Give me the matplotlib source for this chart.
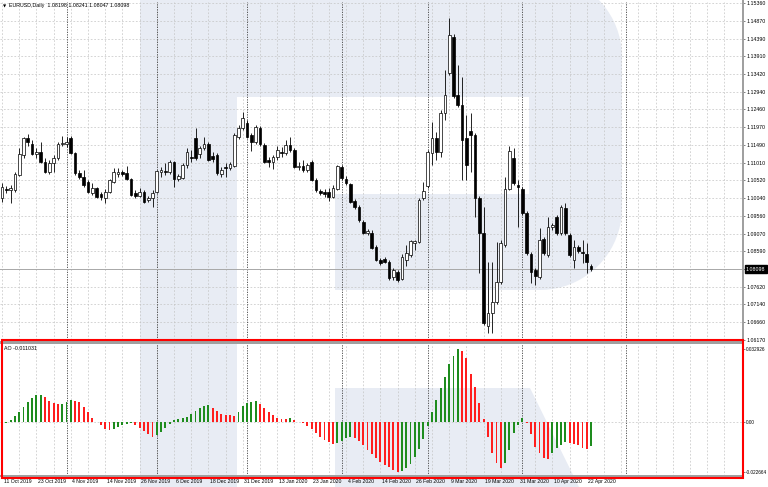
import numpy as np
import matplotlib
matplotlib.use("Agg")
import matplotlib.pyplot as plt
import matplotlib.transforms as mtransforms
from matplotlib.patches import Polygon, Rectangle

plt.rcParams['font.family'] = ['Liberation Sans', 'DejaVu Sans']

# EURUSD daily candles, 11 Oct 2019 .. 23 Apr 2020
opens = [1.1004, 1.1029, 1.1026, 1.1026, 1.1067, 1.1122, 1.1168, 1.1152, 1.1124, 1.1130,
         1.1102, 1.1075, 1.1100, 1.1113, 1.1152, 1.1152, 1.1168, 1.1127, 1.1072, 1.1062,
         1.1048, 1.1018, 1.1032, 1.1015, 1.1004, 1.1021, 1.1048, 1.1070, 1.1075, 1.1072,
         1.1056, 1.1018, 1.1010, 1.1021, 1.0999, 1.1004, 1.1021, 1.1075, 1.1078, 1.1075,
         1.1102, 1.1056, 1.1059, 1.1094, 1.1116, 1.1168, 1.1124, 1.1141, 1.1152, 1.1119,
         1.1122, 1.1070, 1.1089, 1.1086, 1.1092, 1.1171, 1.1195, 1.1209, 1.1176, 1.1157,
         1.1195, 1.1149, 1.1108, 1.1102, 1.1116, 1.1130, 1.1127, 1.1149, 1.1135, 1.1089,
         1.1092, 1.1081, 1.1102, 1.1053, 1.1023, 1.1021, 1.1021, 1.1007, 1.1029, 1.1089,
         1.1056, 1.1043, 1.0996, 1.0980, 1.0939, 1.0909, 1.0909, 1.0871, 1.0835, 1.0838,
         1.0830, 1.0789, 1.0802, 1.0784, 1.0835, 1.0849, 1.0882, 1.0884, 1.1004, 1.1037,
         1.1127, 1.1168, 1.1130, 1.1236, 1.1345, 1.1443, 1.1285, 1.1258, 1.1168, 1.1187,
         1.1176, 1.1004, 1.0909, 1.0655, 1.0691, 1.0721, 1.0775, 1.0876, 1.1029, 1.1113,
         1.1040, 1.1029, 1.0963, 1.0852, 1.0808, 1.0789, 1.0892, 1.0849, 1.0925, 1.0952,
         1.0909, 1.0977, 1.0903, 1.0835, 1.0871, 1.0857, 1.0852, 1.08198]
highs = [1.1045, 1.1037, 1.1040, 1.1075, 1.1141, 1.1171, 1.1179, 1.1162, 1.1141, 1.1157,
         1.1113, 1.1108, 1.1122, 1.1157, 1.1173, 1.1171, 1.1173, 1.1130, 1.1081, 1.1081,
         1.1053, 1.1045, 1.1034, 1.1021, 1.1029, 1.1056, 1.1086, 1.1086, 1.1081, 1.1092,
         1.1059, 1.1026, 1.1032, 1.1026, 1.1010, 1.1026, 1.1081, 1.1089, 1.1100, 1.1108,
         1.1105, 1.1070, 1.1100, 1.1141, 1.1135, 1.1195, 1.1146, 1.1171, 1.1157, 1.1130,
         1.1127, 1.1089, 1.1100, 1.1102, 1.1181, 1.1203, 1.1239, 1.1217, 1.1181, 1.1203,
         1.1200, 1.1154, 1.1116, 1.1122, 1.1146, 1.1143, 1.1162, 1.1171, 1.1141, 1.1102,
         1.1108, 1.1100, 1.1108, 1.1059, 1.1029, 1.1029, 1.1032, 1.1040, 1.1094, 1.1094,
         1.1064, 1.1045, 1.1001, 1.0985, 1.0944, 1.0920, 1.0917, 1.0876, 1.0841, 1.0843,
         1.0835, 1.0813, 1.0808, 1.0852, 1.0876, 1.0890, 1.0890, 1.1004, 1.1048, 1.1135,
         1.1212, 1.1184, 1.1244, 1.1353, 1.1495, 1.1451, 1.1367, 1.1334, 1.1231, 1.1236,
         1.1181, 1.1010, 1.0980, 1.0830, 1.0830, 1.0884, 1.0890, 1.1062, 1.1146, 1.1141,
         1.1053, 1.1034, 1.0969, 1.0857, 1.0813, 1.0922, 1.0898, 1.0952, 1.0936, 1.0958,
         1.0985, 1.0991, 1.0909, 1.0890, 1.0876, 1.0890, 1.0882, 1.08241]
lows = [1.0993, 1.1018, 1.0991, 1.1021, 1.1064, 1.1113, 1.1146, 1.1122, 1.1113, 1.1100,
        1.1072, 1.1070, 1.1075, 1.1108, 1.1146, 1.1143, 1.1124, 1.1067, 1.1056, 1.1034,
        1.1018, 1.1012, 1.1004, 1.0999, 1.0991, 1.1018, 1.1045, 1.1062, 1.1064, 1.1053,
        1.1010, 1.1004, 1.1007, 1.0991, 1.0993, 1.0980, 1.1018, 1.1062, 1.1067, 1.1070,
        1.1034, 1.1051, 1.1056, 1.1086, 1.1102, 1.1108, 1.1113, 1.1135, 1.1105, 1.1102,
        1.1067, 1.1062, 1.1062, 1.1081, 1.1089, 1.1165, 1.1190, 1.1168, 1.1132, 1.1152,
        1.1146, 1.1100, 1.1089, 1.1083, 1.1108, 1.1116, 1.1122, 1.1130, 1.1086, 1.1081,
        1.1075, 1.1075, 1.1051, 1.1021, 1.1012, 1.1007, 1.0996, 1.1004, 1.1026, 1.1053,
        1.1040, 1.0991, 1.0974, 1.0939, 1.0906, 1.0903, 1.0865, 1.0833, 1.0822, 1.0827,
        1.0781, 1.0781, 1.0775, 1.0781, 1.0819, 1.0843, 1.0862, 1.0882, 1.0999, 1.1032,
        1.1094, 1.1108, 1.1116, 1.1217, 1.1340, 1.1277, 1.1252, 1.1053, 1.1053, 1.1075,
        1.0952, 1.0800, 1.0658, 1.0636, 1.0636, 1.0715, 1.0770, 1.0871, 1.1026, 1.1040,
        1.0925, 1.0958, 1.0849, 1.0772, 1.0767, 1.0783, 1.0849, 1.0843, 1.0917, 1.0903,
        1.0903, 1.0903, 1.0843, 1.0813, 1.0854, 1.0827, 1.0800, 1.08047]
closes = [1.1034, 1.1026, 1.1032, 1.1070, 1.1124, 1.1168, 1.1157, 1.1124, 1.1130, 1.1102,
          1.1075, 1.1100, 1.1113, 1.1152, 1.1154, 1.1157, 1.1127, 1.1072, 1.1062, 1.1040,
          1.1021, 1.1032, 1.1007, 1.1007, 1.1021, 1.1053, 1.1075, 1.1075, 1.1070, 1.1056,
          1.1012, 1.1010, 1.1021, 1.0993, 1.1004, 1.1018, 1.1078, 1.1081, 1.1075, 1.1102,
          1.1056, 1.1064, 1.1094, 1.1130, 1.1113, 1.1113, 1.1141, 1.1152, 1.1108, 1.1111,
          1.1072, 1.1081, 1.1086, 1.1097, 1.1176, 1.1195, 1.1222, 1.1171, 1.1157, 1.1198,
          1.1152, 1.1102, 1.1102, 1.1116, 1.1135, 1.1127, 1.1149, 1.1135, 1.1089, 1.1092,
          1.1081, 1.1094, 1.1053, 1.1026, 1.1018, 1.1015, 1.1007, 1.1032, 1.1092, 1.1059,
          1.1045, 1.0993, 1.0980, 1.0944, 1.0909, 1.0914, 1.0868, 1.0835, 1.0827, 1.0830,
          1.0786, 1.0808, 1.0781, 1.0843, 1.0854, 1.0887, 1.0887, 1.0999, 1.1023, 1.1130,
          1.1168, 1.1130, 1.1236, 1.1285, 1.1449, 1.1282, 1.1258, 1.1162, 1.1094, 1.1176,
          1.1004, 1.0909, 1.0663, 1.0691, 1.0721, 1.0775, 1.0882, 1.1029, 1.1132, 1.1045,
          1.1034, 1.0963, 1.0854, 1.0803, 1.0792, 1.0890, 1.0854, 1.0925, 1.0930, 1.0909,
          1.0980, 1.0909, 1.0849, 1.0871, 1.0860, 1.0854, 1.0830, 1.08098]

# Awesome Oscillator histogram
ao_values = [-0.0008, -0.0005, 0.0009, 0.0029, 0.0047, 0.0066, 0.0089, 0.0108, 0.0120, 0.0122,
             0.0111, 0.0095, 0.0084, 0.0080, 0.0081, 0.0090, 0.0099, 0.0096, 0.0089, 0.0069,
             0.0044, 0.0020, 0.0002, -0.0014, -0.0033, -0.0036, -0.0032, -0.0023, -0.0014, -0.0008,
             -0.0006, -0.0014, -0.0029, -0.0041, -0.0053, -0.0066, -0.0059, -0.0047, -0.0029, -0.0011,
             0.0008, 0.0012, 0.0017, 0.0021, 0.0036, 0.0051, 0.0065, 0.0074, 0.0077, 0.0065,
             0.0050, 0.0038, 0.0032, 0.0030, 0.0028, 0.0044, 0.0072, 0.0087, 0.0092, 0.0093,
             0.0081, 0.0065, 0.0047, 0.0032, 0.0020, 0.0014, 0.0012, 0.0017, 0.0009, -0.0002,
             -0.0005, -0.0017, -0.0033, -0.0051, -0.0066, -0.0081, -0.0092, -0.0099, -0.0096, -0.0084,
             -0.0074, -0.0068, -0.0074, -0.0086, -0.0104, -0.0125, -0.0145, -0.0163, -0.0180, -0.0193,
             -0.0205, -0.0217, -0.0227, -0.0219, -0.0207, -0.0188, -0.0160, -0.0122, -0.0076, -0.0018,
             0.0044, 0.0099, 0.0152, 0.0204, 0.0260, 0.0299, 0.0329, 0.0322, 0.0287, 0.0215,
             0.0159, 0.0084, 0.0014, -0.0066, -0.0141, -0.0186, -0.0209, -0.0184, -0.0126, -0.0051,
             -0.0014, 0.0017, -0.0003, -0.0053, -0.0111, -0.0141, -0.0164, -0.0167, -0.0141, -0.0119,
             -0.0104, -0.0092, -0.0096, -0.0101, -0.0104, -0.0116, -0.0123, -0.011031]

date_labels = ['11 Oct 2019', '23 Oct 2019', '4 Nov 2019', '14 Nov 2019', '26 Nov 2019',
               '6 Dec 2019', '18 Dec 2019', '31 Dec 2019', '13 Jan 2020', '23 Jan 2020',
               '4 Feb 2020', '14 Feb 2020', '26 Feb 2020', '9 Mar 2020', '19 Mar 2020',
               '31 Mar 2020', '10 Apr 2020', '22 Apr 2020']
label_step = 8
month_starts = [15, 36, 57, 79, 99, 121, 145]   # bar index of period separators

price_ticks = [1.15360, 1.14870, 1.14390, 1.13910, 1.13420, 1.12940, 1.12460, 1.11970,
               1.11490, 1.11010, 1.10520, 1.10040, 1.09560, 1.09070, 1.08590, 1.08110,
               1.07620, 1.07140, 1.06660, 1.06170]
last_price = 1.08098
ao_ticks = [0.032926, 0.0, -0.022664]
ao_tick_labels = ['0.032926', '0.00', '-0.022664']
ao_last = -0.011031

# ---- layout (pixels) ----
W, H = 768, 487
fig = plt.figure(figsize=(W / 100, H / 100), dpi=100, facecolor='white')
pix = mtransforms.Affine2D().scale(1 / W, -1 / H).translate(0, 1) + fig.transFigure
FS = 3.8


def box(x0, y0, x1, y1):
    return [x0 / W, 1 - y1 / H, (x1 - x0) / W, (y1 - y0) / H]


# watermark logo behind the chart
wm = '#e8ecf4'
t1 = np.linspace(np.pi / 2, 0, 20)
t2 = np.linspace(0, -np.pi / 2, 20)
bowl = [(237, -25)]
bowl += list(zip(540 + 82 * np.cos(t1), 57 - 82 * np.sin(t1)))
bowl += list(zip(540 + 82 * np.cos(t2), 208 - 82 * np.sin(t2)))
bowl += [(335, 290), (335, 194), (529, 194), (529, 97), (237, 97)]
for pts in [bowl,
            [(140, -2), (237, -2), (237, 489), (140, 489)],
            [(335, 388), (530, 388), (580, 489), (335, 489)]]:
    fig.add_artist(Polygon(pts, closed=True, transform=pix, fc=wm, ec='none', zorder=-5))

ax = fig.add_axes(box(0, 2, 743, 340))
ao = fig.add_axes(box(0, 344, 743, 476), sharex=ax)
for a in (ax, ao):
    a.set_facecolor('none')
    for s in a.spines.values():
        s.set_visible(False)

x = np.arange(len(closes))
xlim = (-2 / 4.3, 741 / 4.3)
grid_x = np.arange(0, 173, 4)
grid_kw = dict(color='#c4c4c4', lw=0.5, ls=(0, (2.5, 2.5)))

# main price panel
ax.set_xlim(*xlim)
ax.set_ylim(1.06170, 1.15387)
ax.set_xticks(grid_x)
ax.tick_params(axis='x', length=0, labelbottom=False)
ax.yaxis.tick_right()
ax.set_yticks(price_ticks)
ax.set_yticklabels(['' if abs(p - 1.0811) < 1e-6 else '%.5f' % p for p in price_ticks])
ax.tick_params(axis='y', length=1.5, width=0.5, pad=0.8, labelsize=FS, color='#505050')
ax.grid(True, **grid_kw)
for m in month_starts:
    ax.axvline(m, color='#404040', lw=0.6, ls=(0, (1.5, 1.5)))
    ao.axvline(m, color='#404040', lw=0.6, ls=(0, (1.5, 1.5)))
ax.axhline(last_price, color='#a8a8a8', lw=0.7)

o = np.array(opens)
c = np.array(closes)
ax.vlines(x, lows, highs, color='black', lw=0.6, zorder=3)
bull = c >= o
ax.bar(x[bull], np.maximum(c[bull] - o[bull], 0.00004), bottom=o[bull], width=0.62,
       color='white', edgecolor='black', lw=0.5, zorder=4)
ax.bar(x[~bull], np.maximum(o[~bull] - c[~bull], 0.00004), bottom=c[~bull], width=0.62,
       color='black', edgecolor='black', lw=0.5, zorder=4)

ax.text(1.004, last_price, '%.5f' % last_price, transform=ax.get_yaxis_transform(),
        ha='left', va='center', fontsize=FS, color='white',
        bbox=dict(boxstyle='square,pad=0.25', fc='black', ec='black'))

# AO panel
ao.set_ylim(-54 / 2217, 78 / 2217)
ao.set_xticks(grid_x)
ao.tick_params(axis='x', length=0, labelbottom=False)
ao.grid(True, axis='x', **grid_kw)
ao.axhline(0, **grid_kw)
ao.yaxis.tick_right()
ao.set_yticks(ao_ticks)
ao.set_yticklabels(ao_tick_labels)
ao.tick_params(axis='y', length=1.5, width=0.5, pad=0.5, labelsize=3.4, color='#505050')
vals = np.array(ao_values)
up = np.r_[True, vals[1:] > vals[:-1]]
ao.bar(x, vals, width=0.42, color=np.where(up, '#1e8c1e', '#ff1e1e'), zorder=3)

# frame pieces
fig.add_artist(Rectangle((0, 341), 743, 2.5, transform=pix, fc='#a0a0a0', ec='none', zorder=5))
fig.add_artist(Rectangle((0, 475), 743, 2, transform=pix, fc='#a0a0a0', ec='none', zorder=5))
fig.add_artist(Rectangle((742, 0), 1.5, 477, transform=pix, fc='#a0a0a0', ec='none', zorder=5))
fig.add_artist(Rectangle((1.5, 339.5), 741.5, 138, transform=pix, fill=False,
                         ec='#ff0000', lw=1.5, zorder=20))

# texts
fig.text(3 / W, 1 - 6 / H, '\u25bc', fontsize=3.0, va='center', ha='left', family='DejaVu Sans')
fig.text(9 / W, 1 - 6 / H, 'EURUSD,Daily  %.5f %.5f %.5f %.5f' % (opens[-1], highs[-1], lows[-1], closes[-1]),
         fontsize=FS, va='center', ha='left')
fig.text(4 / W, 1 - 348 / H, 'AO %.6f' % ao_last, fontsize=FS, va='center', ha='left')
for k, lab in enumerate(date_labels):
    xp = 2 + 4.3 * k * label_step
    fig.text((xp + 1.5) / W, 1 - 481.5 / H, lab, fontsize=3.7, va='center', ha='left')

fig.savefig('out.png', dpi=100, facecolor='white')
